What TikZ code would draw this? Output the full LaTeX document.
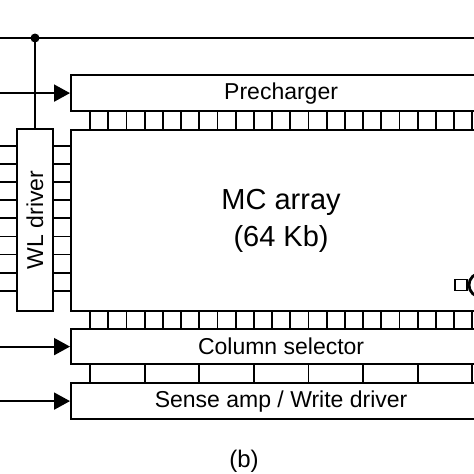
\documentclass[tikz,border=0pt]{standalone}
\usepackage{fontspec}
\setmainfont{Liberation Sans}
\usetikzlibrary{arrows.meta, positioning, calc}

\begin{document}
\begin{tikzpicture}[
      x=1pt, y=-1pt,
      box/.style={rectangle, draw, line width=2.2pt, inner sep=0pt, font=\fontsize{23}{27}\selectfont},
      block/.style={box, anchor=north west, minimum width=420pt},
      wire/.style={line width=2pt},
      bitline/.style={line width=1.8pt},
      >={Triangle[length=16pt, width=17pt]}
    ]
    \useasboundingbox (0,0) rectangle (474,474);
    \clip (0,0) rectangle (474,474);
    \coordinate (edge) at (0,0);

    % Blocks
    \node[block, minimum height=36pt] (pre) at (70,74) {Precharger};
    \node[block, minimum height=181pt, align=center, font=\fontsize{29}{37}\selectfont] (arr) at (70,129) {MC array\\(64 Kb)};
    \node[block, minimum height=35pt] (colsel) at (70,328) {Column selector};
    \node[block, minimum height=36pt] (sense) at (70,382) {Sense amp / Write driver};

    % WL driver
    \node[box, minimum width=36pt, minimum height=182pt] (wl) at (35,220) {};
    \node[rotate=90, font=\fontsize{23}{27}\selectfont] (wltext) at (wl) {WL driver};

    % Cell at the right edge
    \node[circle, draw, line width=2.8pt, minimum size=24pt] (amp) at (481,285) {};
    \node[rectangle, draw, line width=1.4pt, inner sep=0pt, minimum width=12pt, minimum height=11pt, anchor=east] (tab) at (amp.west) {};

    % Bit lines
    \foreach \i in {0,...,21} {
      \draw[bitline] ([xshift=20+18.2*\i] pre.south west) -- ([xshift=20+18.2*\i] arr.north west);
      \draw[bitline] ([xshift=20+18.2*\i] arr.south west) -- ([xshift=20+18.2*\i] colsel.north west);
    }
    \foreach \i in {0,...,7}
      \draw[bitline] ([xshift=20+54.6*\i] colsel.south west) -- ([xshift=20+54.6*\i] sense.north west);

    % Word lines
    \foreach \i in {0,...,8} {
      \coordinate (w\i) at ([yshift={-18-18.1*\i}] wl.north west);
      \draw[bitline] (edge |- w\i) -- (w\i);
      \draw[bitline] (w\i -| wl.east) -- (w\i -| arr.west);
    }

    % Control lines
    \coordinate (busl) at (0,38);
    \coordinate (busr) at (474,38);
    \draw[wire] (busl) -- (busr);
    \fill (wl.north |- busl) circle (4.5pt);
    \draw[wire] (wl.north |- busl) -- (wl.north);
    \draw[wire, ->] (edge |- pre.west) -- (pre.west);
    \draw[wire, ->] (edge |- colsel.west) -- (colsel.west);
    \draw[wire, ->] (edge |- sense.west) -- (sense.west);

    % Caption
    \node[font=\fontsize{24}{28}\selectfont] (cap) at (244,461) {(b)};

\end{tikzpicture}
\end{document}
